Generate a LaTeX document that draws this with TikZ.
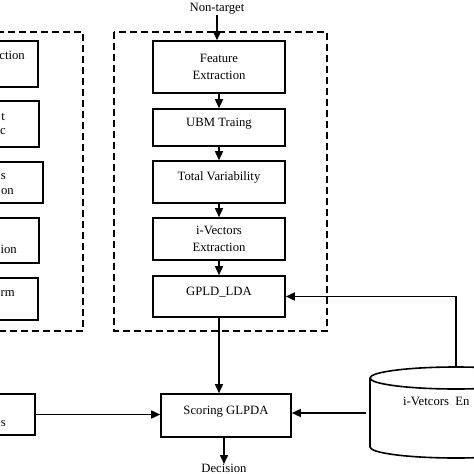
\documentclass[tikz,border=0pt]{standalone}
\usepackage{fontspec}
\setmainfont{Liberation Serif}
\usetikzlibrary{arrows.meta}

\tikzset{
	blk/.style={draw, line width=1.6pt, align=center, inner sep=0pt, minimum width=132pt, font=\fontsize{12.7}{17}\selectfont},
	up/.style={text height=9pt, text depth=12pt},
	lbl/.style={inner sep=0pt, font=\fontsize{12.7}{17}\selectfont},
	grp/.style={line width=2.6pt, dash pattern=on 7pt off 4pt},
	flow/.style={line width=1.5pt, -{Triangle[length=9pt,width=8pt]}},
}

\begin{document}
\begin{tikzpicture}[x=1pt, y=-1pt]
		\useasboundingbox (0,0) rectangle (474,474);
		% dashed groups
		\draw[grp] (-10,32) rectangle (83,331);
		\draw[grp] (114,32) rectangle (327,331);
		% left column (cut off)
		\node[blk, minimum height=46pt] (l1) at (-28,64) {};
		\node[blk, minimum height=46pt] (l2) at (-27,124) {};
		\node[blk, minimum height=41pt] (l3) at (-23,182.5) {};
		\node[blk, minimum height=45pt] (l4) at (-27,240.5) {};
		\node[blk, minimum height=42pt] (l5) at (-28,299) {};
		\node[blk, minimum height=41pt] (lb) at (-31,414.5) {};
		\node[lbl, anchor=east] at (25,55) {ction};
		\node[lbl, anchor=east] at (5,117) {t};
		\node[lbl, anchor=east] at (6,132) {c};
		\node[lbl, anchor=east] at (6,177) {s};
		\node[lbl, anchor=east] at (14,192) {on};
		\node[lbl, anchor=east] at (17,249) {ion};
		\node[lbl, anchor=east] at (15,294) {rm};
		\node[lbl, anchor=east] at (6,424) {s};
		% right column
		\node[lbl] (nt) at (217,9) {Non-target};
		\node[blk, minimum height=52pt] (fe) at (219,67) {Feature\\Extraction};
		\node[blk, up, minimum height=37pt] (ubm) at (219,127.5) {UBM Traing};
		\node[blk, up, minimum height=42pt] (tv) at (219,182) {Total Variability};
		\node[blk, minimum height=42pt] (iv) at (219,239) {i-Vectors\\Extraction};
		\node[blk, up, minimum height=41pt] (gp) at (219,296.5) {GPLD\_LDA};
		\node[blk, up, minimum width=130pt, minimum height=43pt] (sc) at (226,415.5) {Scoring GLPDA};
		\node[lbl, anchor=north] (dec) at (224,464) {Decision};
		% database
		\draw[line width=1.6pt] (456,378) ellipse [x radius=86, y radius=11];
		\draw[line width=1.6pt] (370,378) -- (370,447) arc[start angle=180, end angle=0, x radius=86, y radius=11] -- (542,378);
		\node[lbl, anchor=west] (db) at (403,401) {i-Vetcors\ \ En};
		\coordinate (dbtop) at (456,367);
		\coordinate (dbw) at (366,413);
		% arrows
		\draw[flow] (nt.south) -- (nt.south |- fe.north);
		\draw[flow] (fe) -- (ubm);
		\draw[flow] (ubm) -- (tv);
		\draw[flow] (tv) -- (iv);
		\draw[flow] (iv) -- (gp);
		\draw[flow] (gp.south) -- (gp.south |- sc.north);
		\draw[flow] (dbtop) |- (gp.east);
		\draw[flow] (dbw) -- (dbw -| sc.east);
		\draw[flow] (lb.east) -- (lb.east -| sc.west);
		\draw[flow] (dec.north |- sc.south) -- (dec.north);
	\end{tikzpicture}
\end{document}
